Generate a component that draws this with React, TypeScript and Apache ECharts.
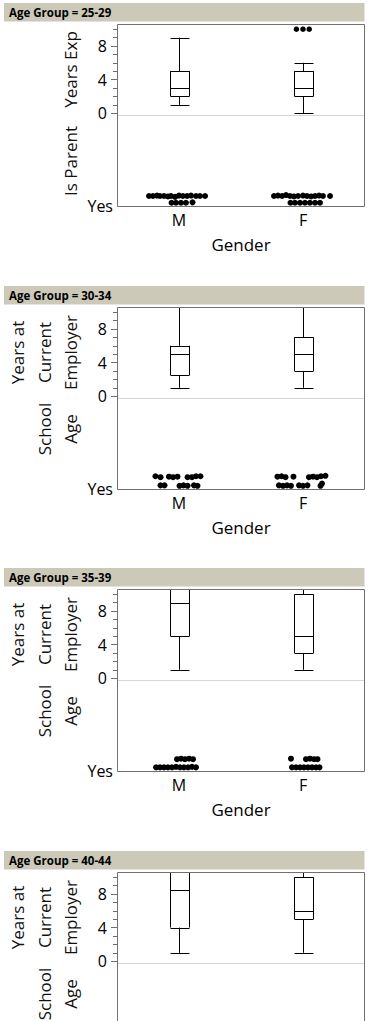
import React, { useEffect, useRef } from "react";
import * as echarts from "echarts";

// ---------- data ----------
const genders = ["M", "F"];
const ageGroups = ["25-29", "30-34", "35-39", "40-44"];
const upperTitles = [["Years Exp"], ["Years at", "Current", "Employer"], ["Years at", "Current", "Employer"], ["Years at", "Current", "Employer"]];
const lowerTitles = [["Is Parent"], ["School", "Age"], ["School", "Age"], ["School", "Age"]];
const yMajorTicks = [0, 4, 8];
const yMinorTicks = [0, 1, 2, 3, 4, 5, 6, 7, 8, 9, 10];
const lowerLevel = "Yes";
const xTitle = "Gender";

// box stats per gender: [min, q1, median, q3, max]
const box2529 = [[1, 2, 3, 5, 9], [0, 2, 3, 5, 6]];
const box3034 = [[1, 2.5, 5, 6, 14], [1, 3, 5, 7, 13]];
const box3539 = [[1, 5, 9, 12, 17], [1, 3, 5, 10, 15]];
const box4044 = [[1, 4, 8.5, 12, 18], [1, 5, 6, 10, 14]];
const boxes = [box2529, box3034, box3539, box4044];

// outliers [gender index, jitter offset, value]
const outliers2529 = [[1, -0.053, 10], [1, 0, 10], [1, 0.05, 10]];
const outliers = [outliers2529, [], [], []];

// lower-panel points: [jitter offset within category, jitter height]
const dots2529M = [[-0.242, 0.11], [-0.21, 0.11], [-0.177, 0.115], [-0.153, 0.11], [-0.121, 0.11], [-0.089, 0.105], [-0.065, 0.11], [-0.032, 0.1], [0, 0.115], [0.032, 0.11], [0.065, 0.11], [0.097, 0.115], [0.137, 0.11], [0.169, 0.11], [0.21, 0.11],
  [-0.06, 0.036], [-0.024, 0.036], [0.016, 0.036], [0.056, 0.036], [0.109, 0.04]];
const dots2529F = [[-0.234, 0.11], [-0.202, 0.115], [-0.169, 0.11], [-0.137, 0.12], [-0.105, 0.11], [-0.073, 0.105], [-0.04, 0.11], [0, 0.115], [0.032, 0.11], [0.065, 0.105], [0.097, 0.11], [0.129, 0.115], [0.161, 0.11], [0.218, 0.11],
  [-0.101, 0.036], [-0.065, 0.036], [-0.024, 0.036], [0.016, 0.036], [0.056, 0.036], [0.097, 0.036], [0.137, 0.036]];
const dots3034M = [[-0.19, 0.14], [-0.149, 0.13], [-0.081, 0.135], [-0.048, 0.13], [-0.012, 0.135], [0.069, 0.13], [0.105, 0.13], [0.137, 0.14], [0.173, 0.14],
  [-0.149, 0.04], [-0.117, 0.04], [0.004, 0.035], [0.036, 0.04], [0.069, 0.035], [0.121, 0.04], [0.149, 0.035]];
const dots3034F = [[-0.206, 0.135], [-0.173, 0.14], [-0.141, 0.13], [-0.077, 0.135], [0.048, 0.13], [0.081, 0.135], [0.113, 0.13], [0.145, 0.14], [0.181, 0.145],
  [-0.194, 0.04], [-0.161, 0.035], [-0.129, 0.04], [-0.097, 0.035], [-0.032, 0.04], [0, 0.035], [0.036, 0.04], [0.141, 0.035], [0.153, 0.06]];
const dots3539M = [[-0.016, 0.13], [0.016, 0.135], [0.048, 0.13], [0.081, 0.135], [0.113, 0.13],
  [-0.185, 0.04], [-0.153, 0.04], [-0.121, 0.04], [-0.089, 0.04], [-0.056, 0.04], [-0.024, 0.045], [0.008, 0.04], [0.04, 0.04], [0.073, 0.04], [0.105, 0.045], [0.137, 0.04]];
const dots3539F = [[-0.097, 0.135], [0.024, 0.13], [0.056, 0.135], [0.089, 0.13], [0.117, 0.13],
  [-0.089, 0.04], [-0.056, 0.04], [-0.024, 0.04], [0.008, 0.04], [0.04, 0.04], [0.073, 0.04], [0.105, 0.04], [0.133, 0.04]];
const dots = [[dots2529M, dots2529F], [dots3034M, dots3034F], [dots3539M, dots3539F], [[], []]];

// ---------- layout / style ----------
const FONT = "'Open Sans', 'Noto Sans', sans-serif";
const OFFSETS = [0, 283, 565, 848];
const GRID_LEFT = 117;
const GRID_W = 248;
const HALF_H = 91;
const Y_MIN = -0.22;
const Y_MAX = 10.62;
const FRAME = "#707070";

function buildOption() {
  const grid: any[] = [];
  const xAxis: any[] = [];
  const yAxis: any[] = [];
  const series: any[] = [];
  const graphic: any[] = [];

  ageGroups.forEach((ag, i) => {
    const off = OFFSETS[i];
    const hTop = 3 + off;
    const fTop = 24 + off;
    const sep = fTop + HALF_H;
    const visibleBottom = i < ageGroups.length - 1;
    const gU = grid.length;
    grid.push({ left: GRID_LEFT, width: GRID_W, top: fTop, height: HALF_H, outerBoundsMode: "none", containLabel: false });
    const gL = grid.length;
    grid.push({ left: GRID_LEFT, width: GRID_W, top: sep, height: HALF_H, outerBoundsMode: "none", containLabel: false });

    const xCatU = xAxis.length;
    xAxis.push({ type: "category", data: genders, gridIndex: gU, show: false, boundaryGap: true });
    const xValU = xAxis.length;
    xAxis.push({ type: "value", min: 0, max: 2, gridIndex: gU, show: false });
    xAxis.push({
      type: "category", data: genders, gridIndex: gL, boundaryGap: true, show: visibleBottom,
      axisLine: { show: false }, axisTick: { show: false },
      axisLabel: { fontSize: 16, color: "#000", margin: 6, fontFamily: FONT },
      name: visibleBottom ? xTitle : "", nameLocation: "middle", nameGap: 30,
      nameTextStyle: { fontSize: 17, color: "#000", fontFamily: FONT },
    });
    const xValL = xAxis.length;
    xAxis.push({ type: "value", min: 0, max: 2, gridIndex: gL, show: false });

    const yU = yAxis.length;
    yAxis.push({
      type: "value", gridIndex: gU, position: "left", min: Y_MIN, max: Y_MAX,
      axisLine: { show: false }, splitLine: { show: false },
      axisTick: { show: true, length: 6, customValues: yMajorTicks, lineStyle: { color: FRAME } },
      axisLabel: { customValues: yMajorTicks, fontSize: 16, color: "#000", margin: 10, fontFamily: FONT },
    });
    yAxis.push({
      type: "value", gridIndex: gU, position: "left", offset: 0, min: Y_MIN, max: Y_MAX,
      axisLine: { show: false }, splitLine: { show: false },
      axisTick: { show: true, length: 4, customValues: yMinorTicks, lineStyle: { color: FRAME } },
      axisLabel: { show: false },
    });
    const yL = yAxis.length;
    yAxis.push({
      type: "value", gridIndex: gL, position: "left", min: 0, max: 1,
      axisLine: { show: false }, splitLine: { show: false }, axisTick: { show: false },
      axisLabel: { show: visibleBottom, customValues: [0], formatter: () => lowerLevel, fontSize: 16, color: "#000", margin: 4, fontFamily: FONT },
    });

    // box plots
    series.push({
      type: "custom", xAxisIndex: xCatU, yAxisIndex: yU, silent: true,
      data: boxes[i].map((b, gi) => [gi, ...b]),
      renderItem: (params: any, api: any) => {
        const cat = api.value(0);
        const cs = params.coordSys;
        const top = cs.y, bottom = cs.y + cs.height;
        const Y = (v: number) => api.coord([cat, v])[1];
        const cx = api.coord([cat, 0])[0];
        const hw = 9.5;
        const xl = Math.round(cx - hw) + 0.5, xr = Math.round(cx + hw) + 0.5, xc = Math.round(cx) + 0.5;
        const cl = (y: number) => Math.min(bottom, Math.max(top, y));
        const st = { stroke: "#000", lineWidth: 1, fill: null };
        const children: any[] = [];
        const hline = (y: number) => {
          if (y >= top - 0.1 && y <= bottom + 0.1) {
            const yy = Math.round(y) + 0.5;
            children.push({ type: "line", shape: { x1: xl, y1: yy, x2: xr, y2: yy }, style: st });
          }
        };
        const vline = (x: number, y1: number, y2: number) => {
          const a = cl(y1), b = cl(y2);
          if (Math.abs(a - b) > 0.1) children.push({ type: "line", shape: { x1: x, y1: a, x2: x, y2: b }, style: st });
        };
        const [ymin, yq1, ymed, yq3, ymax] = [Y(api.value(1)), Y(api.value(2)), Y(api.value(3)), Y(api.value(4)), Y(api.value(5))];
        vline(xl, yq1, yq3);
        vline(xr, yq1, yq3);
        hline(yq1); hline(yq3); hline(ymed); hline(ymin); hline(ymax);
        vline(xc, yq3, ymax);
        vline(xc, ymin, yq1);
        return { type: "group", children };
      },
    });

    if (outliers[i].length) {
      series.push({
        type: "scatter", xAxisIndex: xValU, yAxisIndex: yU, symbolSize: 5.5, silent: true,
        itemStyle: { color: "#000", opacity: 1 },
        data: outliers[i].map((o) => [o[0] + 0.5 + o[1], o[2]]),
      });
    }

    dots[i].forEach((arr, gi) => {
      if (!arr.length) return;
      series.push({
        type: "scatter", xAxisIndex: xValL, yAxisIndex: yL, symbolSize: 6, silent: true,
        itemStyle: { color: "#000", opacity: 1 },
        data: arr.map((d) => [gi + 0.5 + d[0], d[1]]),
      });
    });

    // header bar
    graphic.push({ type: "rect", shape: { x: 4, y: hTop, width: 360.5, height: 18.5 }, style: { fill: "#CCC9B9" }, silent: true });
    graphic.push({
      type: "text", x: 9, y: hTop + 9.5, silent: true,
      style: { text: "Age Group = " + ag, fontSize: 11.5, fontWeight: "bold", fontFamily: FONT, fill: "#000", align: "left", verticalAlign: "middle" },
    });
    // frame & separator
    graphic.push({ type: "rect", shape: { x: GRID_LEFT + 0.5, y: fTop + 0.5, width: GRID_W - 1, height: HALF_H * 2 }, style: { fill: null, stroke: FRAME, lineWidth: 1 }, silent: true, z: 10 });
    graphic.push({ type: "line", shape: { x1: GRID_LEFT + 1, y1: sep + 0.5, x2: GRID_LEFT + GRID_W - 1, y2: sep + 0.5 }, style: { stroke: "#D6D6D6", lineWidth: 1 }, silent: true });

    // axis titles (rotated)
    const lineX = [17.5, 44, 70];
    const addTitle = (lines: string[], cy: number) => {
      lines.forEach((t, k) => {
        const x = lineX[lineX.length - lines.length + k];
        graphic.push({
          type: "text", x, y: cy, rotation: Math.PI / 2, silent: true,
          style: { text: t, fontSize: 17, fontFamily: FONT, fill: "#111", align: "center", verticalAlign: "middle" },
        });
      });
    };
    addTitle(upperTitles[i], fTop + 45.5);
    addTitle(lowerTitles[i], i === 0 ? fTop + 137 : sep + 31);
  });

  return { animation: false, grid, xAxis, yAxis, series, graphic };
}

export default function App() {
  const ref = useRef<HTMLDivElement>(null);
  useEffect(() => {
    const chart = echarts.init(ref.current!, null, { renderer: "svg" });
    chart.setOption(buildOption() as any);
    return () => chart.dispose();
  }, []);
  return <div ref={ref} style={{ position: "absolute", left: 0, top: 0, width: 373, height: 1021, background: "#fff" }} />;
}
